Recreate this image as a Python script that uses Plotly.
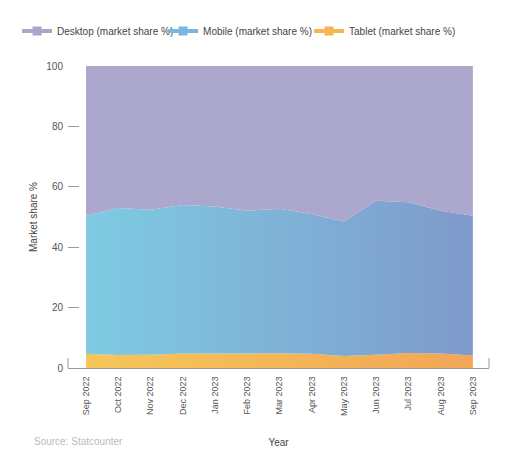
import plotly.graph_objects as go

months = ["Sep 2022", "Oct 2022", "Nov 2022", "Dec 2022", "Jan 2023", "Feb 2023", "Mar 2023",
          "Apr 2023", "May 2023", "Jun 2023", "Jul 2023", "Aug 2023", "Sep 2023"]
tablet = [4.7, 4.3, 4.4, 4.8, 4.8, 4.8, 4.9, 4.7, 4.0, 4.4, 5.0, 4.8, 4.1]
mobile = [45.7, 48.7, 48.0, 49.2, 48.7, 47.3, 47.8, 46.3, 44.5, 51.0, 49.9, 47.3, 46.3]
desktop = [49.6, 47.0, 47.6, 46.0, 46.5, 47.9, 47.3, 49.0, 51.5, 44.6, 45.1, 47.9, 49.6]

FONT = "Liberation Sans, Arial, sans-serif"
GREY = "#9a9a9a"

fig = go.Figure()

# stacked areas (tablet at the bottom), gradient fills left->right
fig.add_trace(go.Scatter(
    x=months, y=tablet, stackgroup="one", mode="none", showlegend=False,
    fillgradient=dict(type="horizontal", colorscale=[[0, "#f6c658"], [1, "#f2a656"]]),
))
fig.add_trace(go.Scatter(
    x=months, y=mobile, stackgroup="one", mode="none", showlegend=False,
    fillgradient=dict(type="horizontal", colorscale=[[0, "#7ecbe2"], [1, "#7f9acb"]]),
))
fig.add_trace(go.Scatter(
    x=months, y=desktop, stackgroup="one", mode="none", showlegend=False,
    fillcolor="#aba7cd",
))

# legend-only entries (line + square marker look)
for name, color in [("Desktop (market share %)", "#aaa6cc"),
                    ("Mobile (market share %)", "#7bb6dd"),
                    ("Tablet (market share %)", "#f4b552")]:
    fig.add_trace(go.Scatter(
        x=[None], y=[None], mode="lines+markers", name=name,
        line=dict(color=color, width=4), marker=dict(color=color, symbol="square", size=9),
    ))

# short end brackets on the x axis line
for xp in (0, 1):
    fig.add_shape(type="line", xref="paper", yref="paper", x0=xp, x1=xp, y0=0, y1=0.033,
                  line=dict(color=GREY, width=1))

fig.update_xaxes(
    type="category", range=[-0.56, 12.5], showgrid=False, zeroline=False, automargin=False,
    showline=True, linecolor=GREY, linewidth=1, ticks="", tickangle=-90,
    ticklabelstandoff=4, tickfont=dict(size=9, color="#555555"),
    title=dict(text="Year", font=dict(size=10, color="#444444"), standoff=23),
)
fig.update_yaxes(
    range=[0, 100], tickvals=[0, 20, 40, 60, 80, 100], showgrid=False, zeroline=False,
    automargin=False, showline=False, ticks="inside", ticklen=11, tickcolor=GREY,
    ticklabelstandoff=4, tickfont=dict(size=10, color="#555555"),
    title=dict(text="Market share %", font=dict(size=10, color="#444444"), standoff=6),
)

fig.add_annotation(text="Source: Statcounter", xref="paper", yref="paper",
                   x=-0.0855, y=-0.245, xanchor="left", yanchor="middle",
                   showarrow=False, font=dict(size=10, color="#bbbbbb", family=FONT))

# page body adds an 8px offset, so the figure is drawn 8px smaller
fig.update_layout(
    width=504, height=457,
    margin=dict(l=60, r=23, t=58, b=97, autoexpand=False),
    paper_bgcolor="white", plot_bgcolor="white",
    font=dict(family=FONT, size=10, color="#444444"),
    legend=dict(orientation="h", x=-0.121, y=1.164, xanchor="left", yanchor="top",
                traceorder="normal", entrywidth=101, entrywidthmode="pixels",
                font=dict(size=10, color="#444444")),
)

fig.write_html("out.html")
